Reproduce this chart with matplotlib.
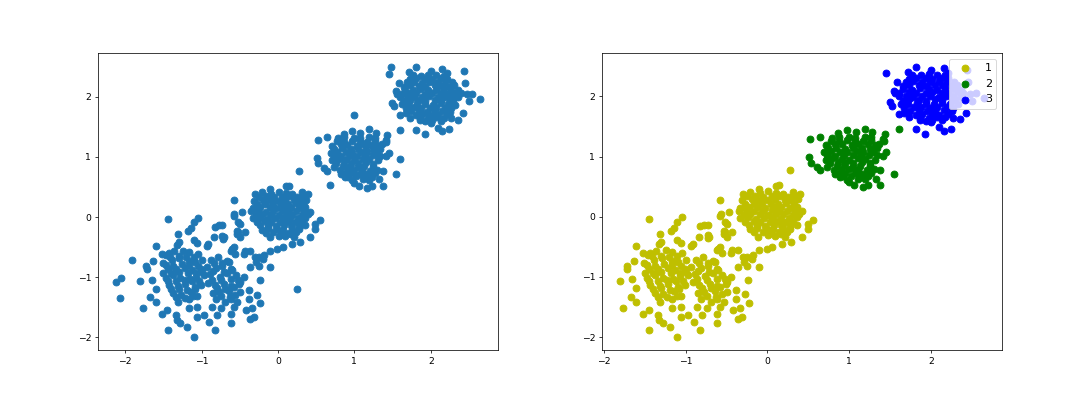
import matplotlib
matplotlib.use("Agg")
import matplotlib.pyplot as plt

# grupo 1 (amarillo): los dos cúmulos de abajo, (-1,-1) y (0,0)
g1_x = [-1.44, -1.04, -1.10, -1.14, -0.82, -0.77, -1.31, -1.18, -0.84, -0.73,
        -0.72, -1.60, -1.32, -1.30, -1.10, -1.06, -0.93, -0.91, -0.62, -0.58,
        -1.72, -1.71, -1.63, -1.52, -1.43, -1.80, -1.65, -1.60, -1.76, -1.67,
        -1.60, -1.52, -1.45, -1.44, -1.34, -1.32, -1.28, -1.19, -1.10, -1.17,
        -1.06, -1.06, -0.97, -0.90, -0.82, -0.86, -0.80, -0.62, -0.62, -0.58,
        -0.53, -0.42, -0.34, -0.31, -0.36, -0.23, -0.27, -0.38, -0.38, -0.49,
        -0.24, -0.49, -0.45, -0.36, -0.29, -0.25, -0.18, -0.10, -0.45, -0.36,
        -0.53, -0.49, -0.58, -0.53,
        # núcleo (-1,-1), lado izquierdo
        -1.46, -1.36, -1.24, -1.16, -1.04, -1.51, -1.39, -1.29, -1.17, -1.09,
        -0.99, -1.44, -1.34, -1.21, -1.13, -1.01, -1.47, -1.37, -1.28, -1.15,
        -1.07, -0.97, -1.43, -1.31, -1.21, -1.09, -1.01, -1.37, -1.27, -1.14,
        -1.06, -1.31, -1.17,
        -1.41, -1.30, -1.20, -1.10,
        -1.47, -1.37, -1.26, -1.16, -1.05,
        -1.50, -1.40, -1.30, -1.18, -1.07, -0.99,
        -1.44, -1.33, -1.22, -1.12, -1.03,
        -1.40, -1.30, -1.19, -1.08,
        -1.33, -1.22, -1.11,
        # núcleo (-1,-1), lado derecho
        -0.87, -0.79, -0.67, -0.93, -0.81, -0.73, -0.61, -0.89, -0.76, -0.67,
        -0.55, -0.91, -0.83, -0.70, -0.61, -0.51, -0.85, -0.77, -0.64, -0.56,
        -0.81, -0.69, -0.61, -0.74,
        -0.84, -0.73, -0.64,
        -0.85, -0.71, -0.60,
        -0.86, -0.74, -0.62, -0.52,
        -0.80, -0.69, -0.58,
        -0.74, -0.63,
        # cúmulo (0,0), exteriores
        -0.10, -0.01, 0.06, 0.17, 0.28, 0.40, 0.31, 0.55, 0.49, 0.49,
        0.11, 0.14, -0.10, -0.30, -0.58, -0.57, -0.47, -0.52, -0.52, -0.43,
        -0.49, -0.73, -0.71, -0.60, -0.56, -0.43, -0.30, -0.19, -0.25, 0.18,
        0.29, 0.42,
        # núcleo (0,0)
        -0.21, -0.09, 0.01, 0.11, 0.19, 0.31,
        -0.31, -0.19, -0.11, 0.01, 0.09, 0.21, 0.29, 0.37,
        -0.33, -0.23, -0.11, -0.03, 0.09, 0.17, 0.27, 0.36,
        -0.29, -0.21, -0.09, 0.01, 0.11, 0.19, 0.31, 0.39,
        -0.27, -0.17, -0.09, 0.03, 0.11, 0.23, 0.31,
        -0.21, -0.13, -0.01, 0.07, 0.19, 0.27,
        -0.11, 0.01, 0.09, 0.21,
        -0.25, -0.15, -0.05, 0.05, 0.15, 0.25, 0.34,
        -0.27, -0.17, -0.07, 0.04, 0.13, 0.23, 0.33,
        -0.35, -0.26, -0.16, -0.06, 0.05, 0.14, 0.24, 0.34, 0.42,
        -0.33, -0.24, -0.14, -0.04, 0.06, 0.16, 0.26, 0.36,
        -0.23, -0.13, -0.03, 0.08, 0.17, 0.27, 0.36,
        -0.16, -0.06, 0.04, 0.14, 0.24]
g1_y = [-0.04, -0.01, -0.09, -0.18, -0.16, -0.13, -0.29, -0.23, -0.34, -0.31,
        -0.36, -0.48, -0.46, -0.42, -0.39, -0.44, -0.49, -0.45, -0.56, -0.50,
        -0.81, -0.86, -0.74, -0.61, -0.60, -1.07, -1.04, -1.19, -1.52, -1.33,
        -1.41, -1.61, -1.55, -1.88, -1.63, -1.72, -1.77, -1.83, -1.99, -1.52,
        -1.50, -1.66, -1.63, -1.75, -1.88, -1.50, -1.63, -1.77, -1.61, -1.50,
        -1.41, -1.55, -1.52, -1.66, -1.69, -1.43, -1.29, -1.36, -1.22, -1.25,
        -1.05, -1.08, -1.00, -0.83, -0.75, -0.67, -0.64, -0.83, -0.61, -0.56,
        -0.28, -0.12, 0.02, -0.23,
        -0.63, -0.57, -0.56, -0.59, -0.61, -0.76, -0.71, -0.69, -0.73, -0.75,
        -0.71, -0.87, -0.86, -0.85, -0.89, -0.87, -1.01, -0.97, -1.01, -1.03,
        -0.99, -0.97, -1.13, -1.15, -1.11, -1.16, -1.13, -1.27, -1.29, -1.24,
        -1.31, -1.41, -1.37,
        -0.66, -0.65, -0.67, -0.66,
        -0.80, -0.81, -0.79, -0.80, -0.81,
        -0.93, -0.94, -0.92, -0.93, -0.94, -0.92,
        -1.06, -1.07, -1.05, -1.06, -1.07,
        -1.20, -1.19, -1.21, -1.20,
        -1.33, -1.34, -1.32,
        -0.71, -0.67, -0.73, -0.83, -0.85, -0.81, -0.87, -0.95, -0.99, -0.94,
        -0.97, -1.09, -1.13, -1.11, -1.15, -1.11, -1.26, -1.25, -1.23, -1.29,
        -1.37, -1.41, -1.37, -1.51,
        -0.76, -0.77, -0.75,
        -0.90, -0.91, -0.89,
        -1.04, -1.05, -1.03, -1.04,
        -1.18, -1.19, -1.17,
        -1.32, -1.33,
        -0.56, -0.53, -0.50, -0.28, 0.77, 0.38, 0.34, -0.05, -0.12, -0.20,
        0.51, 0.52, 0.46, 0.38, 0.28, 0.05, 0.08, -0.09, -0.25, -0.25,
        -0.34, -0.14, -0.34, -0.53, -0.61, -0.56, -0.67, -0.70, -0.81, -0.45,
        -0.42, -0.34,
        0.41, 0.39, 0.42, 0.40, 0.38, 0.41,
        0.27, 0.29, 0.28, 0.27, 0.29, 0.28, 0.27, 0.29,
        0.15, 0.17, 0.16, 0.15, 0.17, 0.16, 0.15, 0.17,
        0.03, 0.05, 0.04, 0.03, 0.05, 0.04, 0.03, 0.05,
        -0.09, -0.07, -0.08, -0.09, -0.07, -0.08, -0.09,
        -0.21, -0.19, -0.20, -0.21, -0.19, -0.20,
        -0.33, -0.31, -0.32, -0.33,
        0.34, 0.35, 0.33, 0.34, 0.35, 0.33, 0.34,
        0.22, 0.21, 0.23, 0.22, 0.21, 0.23, 0.22,
        0.10, 0.11, 0.09, 0.10, 0.11, 0.09, 0.10, 0.11, 0.09,
        -0.02, -0.01, -0.03, -0.02, -0.01, -0.03, -0.02, -0.01,
        -0.14, -0.13, -0.15, -0.14, -0.13, -0.15, -0.14,
        -0.26, -0.25, -0.27, -0.26, -0.25]

# grupo 2 (verde): cúmulo (1,1)
g2_x = [0.52, 0.64, 0.86, 0.97, 1.08, 1.19, 1.28, 1.43, 1.41, 1.60,
        0.51, 0.53, 0.60, 0.64, 0.82, 0.88, 0.99, 1.06, 1.17, 1.23,
        1.38, 1.32, 1.38, 1.54, 1.45, 1.41, 1.36, 1.42,
        0.79, 0.87, 0.99, 1.07, 1.19, 1.27,
        0.71, 0.83, 0.91, 1.03, 1.11, 1.23, 1.31,
        0.69, 0.77, 0.89, 0.97, 1.09, 1.17, 1.29,
        0.71, 0.79, 0.91, 0.99, 1.11, 1.19, 1.31,
        0.73, 0.85, 0.93, 1.05, 1.13, 1.25,
        0.87, 0.95, 1.07, 1.15, 1.27,
        0.97, 1.11, 1.19,
        0.77, 0.87, 0.97, 1.07, 1.17, 1.27,
        0.74, 0.84, 0.95, 1.05, 1.15, 1.25, 1.34,
        0.73, 0.83, 0.94, 1.04, 1.14, 1.24, 1.34,
        0.76, 0.86, 0.95, 1.05, 1.15, 1.25,
        0.81, 0.90, 1.00, 1.10, 1.21, 1.30,
        0.92, 1.02, 1.13, 1.23]
g2_y = [1.29, 1.33, 1.39, 1.44, 1.40, 1.46, 1.40, 1.37, 1.29, 1.45,
        0.99, 0.90, 0.82, 0.77, 0.71, 0.66, 0.57, 0.52, 0.49, 0.52,
        0.52, 0.63, 0.77, 0.71, 1.07, 1.01, 1.21, 1.25,
        1.31, 1.33, 1.32, 1.31, 1.33, 1.32,
        1.19, 1.21, 1.20, 1.19, 1.21, 1.20, 1.19,
        1.07, 1.09, 1.08, 1.07, 1.09, 1.08, 1.07,
        0.95, 0.97, 0.96, 0.95, 0.97, 0.96, 0.95,
        0.83, 0.85, 0.84, 0.83, 0.85, 0.84,
        0.71, 0.73, 0.72, 0.71, 0.73,
        0.61, 0.63, 0.62,
        1.26, 1.25, 1.27, 1.26, 1.25, 1.27,
        1.14, 1.15, 1.13, 1.14, 1.15, 1.13, 1.14,
        1.02, 1.01, 1.03, 1.02, 1.01, 1.03, 1.02,
        0.90, 0.91, 0.89, 0.90, 0.91, 0.89,
        0.78, 0.77, 0.79, 0.78, 0.77, 0.79,
        0.67, 0.68, 0.66, 0.67]

# grupo 3 (azul): cúmulo (2,2)
g3_x = [1.45, 1.71, 1.81, 2.00, 2.15, 2.21, 2.44, 2.45, 1.58, 1.54,
        1.56, 1.49, 1.52, 1.60, 2.39, 2.47, 2.54, 2.64, 2.50, 2.42,
        2.35, 2.24, 2.15, 2.10, 2.00, 1.86, 1.81, 1.92, 1.67, 1.73,
        1.73, 1.81, 1.93, 2.01, 2.13, 2.21,
        1.65, 1.73, 1.85, 1.93, 2.05, 2.13, 2.25, 2.31,
        1.61, 1.73, 1.81, 1.93, 2.01, 2.13, 2.21, 2.33,
        1.65, 1.73, 1.85, 1.93, 2.05, 2.13, 2.25, 2.29,
        1.67, 1.79, 1.87, 1.99, 2.07, 2.19, 2.27,
        1.81, 1.89, 2.01, 2.09, 2.21,
        1.93, 2.01, 2.13,
        1.77, 1.87, 1.97, 2.07, 2.17,
        1.69, 1.78, 1.89, 1.98, 2.09, 2.19, 2.28,
        1.66, 1.77, 1.86, 1.97, 2.07, 2.17, 2.27, 2.36,
        1.60, 1.69, 1.78, 1.89, 1.98, 2.09, 2.18, 2.27, 2.36,
        1.63, 1.72, 1.82, 1.93, 2.03, 2.13, 2.23, 2.32,
        1.74, 1.85, 1.95, 2.05, 2.15, 2.25,
        1.86, 1.97, 2.07, 2.17, 2.27]
g3_y = [2.38, 2.41, 2.49, 2.43, 2.47, 2.39, 2.43, 2.23, 2.23, 2.09,
        2.05, 1.90, 1.84, 1.70, 2.06, 2.04, 2.05, 1.97, 1.93, 1.73,
        1.62, 1.46, 1.43, 1.49, 1.57, 1.61, 1.45, 1.38, 1.73, 1.65,
        2.29, 2.31, 2.30, 2.29, 2.31, 2.30,
        2.17, 2.19, 2.18, 2.17, 2.19, 2.18, 2.17, 2.19,
        2.05, 2.07, 2.06, 2.05, 2.07, 2.06, 2.05, 2.07,
        1.93, 1.95, 1.94, 1.93, 1.95, 1.94, 1.93, 1.95,
        1.81, 1.83, 1.82, 1.81, 1.83, 1.82, 1.81,
        1.69, 1.71, 1.70, 1.69, 1.71,
        1.59, 1.61, 1.60,
        2.36, 2.35, 2.37, 2.36, 2.35,
        2.24, 2.25, 2.23, 2.24, 2.25, 2.23, 2.24,
        2.12, 2.11, 2.13, 2.12, 2.11, 2.13, 2.12, 2.11,
        2.00, 2.01, 1.99, 2.00, 2.01, 1.99, 2.00, 2.01, 1.99,
        1.88, 1.87, 1.89, 1.88, 1.87, 1.89, 1.88, 1.87,
        1.76, 1.77, 1.75, 1.76, 1.77, 1.75,
        1.65, 1.64, 1.66, 1.65, 1.64]

# puntos sin grupo (solo salen en el panel izquierdo)
ruido_x = [-2.12, -2.06, -2.07, -1.91, 0.25, 1.60, 0.99, 0.68, 1.48]
ruido_y = [-1.08, -1.01, -1.35, -0.72, -1.19, 0.96, 1.69, 0.53, 2.50]

etiquetas = ["1", "2", "3"]
colores = ["y", "g", "b"]

todos_x = ruido_x + g1_x + g2_x + g3_x
todos_y = ruido_y + g1_y + g2_y + g3_y

dpi = 66.6875
tam = 55  # tamaño de marcador

fig = plt.figure(figsize=(1067 / dpi, 401 / dpi), dpi=dpi)
ax1 = fig.add_axes([0.0916, 0.127, 0.375, 0.740])
ax2 = fig.add_axes([0.564, 0.127, 0.375, 0.740])

ax1.scatter(todos_x, todos_y, s=tam)

grupos = [(g1_x, g1_y), (g2_x, g2_y), (g3_x, g3_y)]
for (gx, gy), lab, col in zip(grupos, etiquetas, colores):
    ax2.scatter(gx, gy, s=tam, c=col, label=lab)
ax2.legend(loc="upper right", fontsize=12)

fig.savefig("out.png", dpi=dpi)
